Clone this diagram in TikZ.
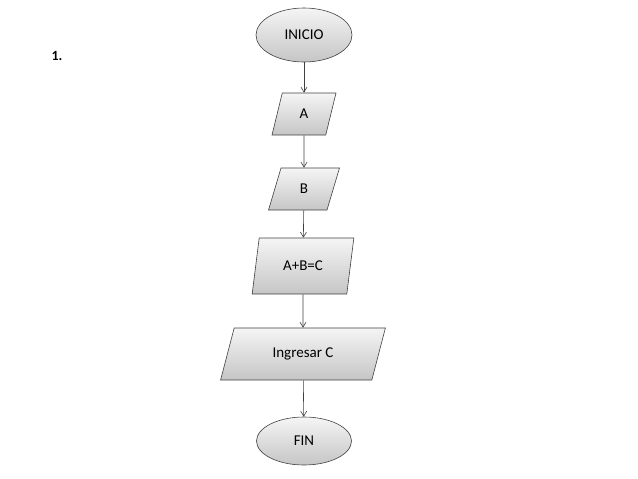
\documentclass[tikz,border=0pt]{standalone}
\usepackage{fontspec}
\setmainfont{Carlito}
\usetikzlibrary{shapes.geometric,arrows.meta}
\begin{document}
\begin{tikzpicture}[x=1pt,y=-1pt,
  base/.style={draw=black!75,line width=0.6pt,top color=gray!8,bottom color=gray!45,font=\fontsize{15}{17}\selectfont,inner sep=0pt},
  term/.style={base,ellipse},
  io/.style={base,trapezium,trapezium stretches=true,trapezium left angle=#1,trapezium right angle=-#1},
  conn/.style={-{Straight Barb[length=5pt,width=6pt]},draw=black!75,line width=0.6pt}]
\useasboundingbox (0,0) rectangle (638,479);
\node[font=\bfseries\fontsize{14}{16}\selectfont] (num) at (57,56) {1.};
\node[term,minimum width=96pt,minimum height=54pt] (ini) at (304,35) {INICIO};
\node[io=78,minimum width=64pt,minimum height=42pt] (a) at (304,114) {A};
\node[io=77,minimum width=71pt,minimum height=42pt] (b) at (304,189) {B};
\node[io=72,minimum width=102pt,minimum height=56pt] (c) at (303,266) {A+B=C};
\node[io=64,minimum width=165pt,minimum height=52pt] (d) at (303,354) {Ingresar C};
\node[term,minimum width=95pt,minimum height=48pt] (fin) at (304,441) {FIN};
\draw[conn] (ini) -- (a);
\draw[conn] (a) -- (b);
\draw[conn] (b) -- (c);
\draw[conn] (c) -- (d);
\draw[conn] (d) -- (fin);
\end{tikzpicture}
\end{document}
